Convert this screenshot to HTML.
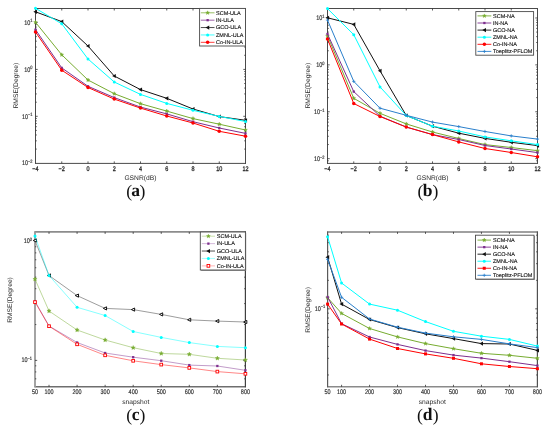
<!DOCTYPE html>
<html><head><meta charset="utf-8"><style>
html,body{margin:0;padding:0;background:#fff;}
body{width:550px;height:436px;overflow:hidden;}
svg{display:block;text-rendering:geometricPrecision;filter:blur(0.25px);}
.tk{font-family:"Liberation Sans",Arial,sans-serif;font-size:5.5px;font-weight:bold;fill:#2a2a2a;}
.tk2{font-family:"Liberation Sans",Arial,sans-serif;font-size:6.7px;fill:#2a2a2a;stroke:#2a2a2a;stroke-width:0.16px;}
.sup{font-size:4.0px;}
.tk2 .sup{font-size:4.8px;}
.bx{stroke-width:0.3px;}
.lg{font-family:"Liberation Sans",Arial,sans-serif;font-size:5.5px;fill:#111;stroke:#111;stroke-width:0.12px;}
.al{font-family:"Liberation Sans",Arial,sans-serif;font-size:6.7px;fill:#2a2a2a;}
.cap{font-family:"Liberation Serif","DejaVu Serif",serif;font-size:17.5px;font-weight:bold;fill:#111;}
.par{font-weight:normal;font-size:17.6px;}
</style></head><body>
<svg width="550" height="436" viewBox="0 0 550 436">
<rect width="550" height="436" fill="#fff"/>
<path d="M35 8.5H246" stroke="#4a4a4a" stroke-width="1"/>
<path d="M35 163.4H246" stroke="#4a4a4a" stroke-width="1"/>
<path d="M35.5 8V163.9" stroke="#4a4a4a" stroke-width="1"/>
<path d="M245.5 8V163.9" stroke="#4a4a4a" stroke-width="1"/>
<path d="M61.75 163.4v-2M61.75 8.5v2M88 163.4v-2M88 8.5v2M114.25 163.4v-2M114.25 8.5v2M140.5 163.4v-2M140.5 8.5v2M166.75 163.4v-2M166.75 8.5v2M193 163.4v-2M193 8.5v2M219.25 163.4v-2M219.25 8.5v2M35.5 149.08h1.3M245.5 149.08h-1.3M35.5 140.83h1.3M245.5 140.83h-1.3M35.5 134.97h1.3M245.5 134.97h-1.3M35.5 130.42h1.3M245.5 130.42h-1.3M35.5 126.71h1.3M245.5 126.71h-1.3M35.5 123.57h1.3M245.5 123.57h-1.3M35.5 120.85h1.3M245.5 120.85h-1.3M35.5 118.45h1.3M245.5 118.45h-1.3M35.5 116.31h2.2M245.5 116.31h-2.2M35.5 102.19h1.3M245.5 102.19h-1.3M35.5 93.93h1.3M245.5 93.93h-1.3M35.5 88.07h1.3M245.5 88.07h-1.3M35.5 83.53h1.3M245.5 83.53h-1.3M35.5 79.81h1.3M245.5 79.81h-1.3M35.5 76.68h1.3M245.5 76.68h-1.3M35.5 73.96h1.3M245.5 73.96h-1.3M35.5 71.56h1.3M245.5 71.56h-1.3M35.5 69.41h2.2M245.5 69.41h-2.2M35.5 55.29h1.3M245.5 55.29h-1.3M35.5 47.04h1.3M245.5 47.04h-1.3M35.5 41.18h1.3M245.5 41.18h-1.3M35.5 36.63h1.3M245.5 36.63h-1.3M35.5 32.92h1.3M245.5 32.92h-1.3M35.5 29.78h1.3M245.5 29.78h-1.3M35.5 27.06h1.3M245.5 27.06h-1.3M35.5 24.66h1.3M245.5 24.66h-1.3M35.5 22.52h2.2M245.5 22.52h-2.2" stroke="#333" stroke-width="0.8" fill="none"/>
<text transform="translate(35.5 170.9) scale(0.82 1)" class="tk2 bx" text-anchor="middle">−4</text>
<text transform="translate(61.75 170.9) scale(0.82 1)" class="tk2 bx" text-anchor="middle">−2</text>
<text transform="translate(88 170.9) scale(0.82 1)" class="tk2 bx" text-anchor="middle">0</text>
<text transform="translate(114.25 170.9) scale(0.82 1)" class="tk2 bx" text-anchor="middle">2</text>
<text transform="translate(140.5 170.9) scale(0.82 1)" class="tk2 bx" text-anchor="middle">4</text>
<text transform="translate(166.75 170.9) scale(0.82 1)" class="tk2 bx" text-anchor="middle">6</text>
<text transform="translate(193 170.9) scale(0.82 1)" class="tk2 bx" text-anchor="middle">8</text>
<text transform="translate(219.25 170.9) scale(0.82 1)" class="tk2 bx" text-anchor="middle">10</text>
<text transform="translate(245.5 170.9) scale(0.82 1)" class="tk2 bx" text-anchor="middle">12</text>
<text transform="translate(32.5 24.72) scale(0.82 1)" class="tk2" text-anchor="end">10<tspan class="sup" dy="-2.3">1</tspan></text>
<text transform="translate(32.5 71.61) scale(0.82 1)" class="tk2" text-anchor="end">10<tspan class="sup" dy="-2.3">0</tspan></text>
<text transform="translate(32.5 118.51) scale(0.82 1)" class="tk2" text-anchor="end">10<tspan class="sup" dy="-2.3">−1</tspan></text>
<text transform="translate(32.5 165.4) scale(0.82 1)" class="tk2" text-anchor="end">10<tspan class="sup" dy="-2.3">−2</tspan></text>
<polyline points="35.5,22.3 61.75,54.8 88,80 114.25,93.7 140.5,103.7 166.75,111.1 193,118.6 219.25,124.2 245.5,130" fill="none" stroke="#77ac30" stroke-width="1.0" stroke-linejoin="round" stroke-opacity="1.0"/>
<polygon points="35.5,20.3 36.03,21.57 37.4,21.68 36.36,22.58 36.68,23.92 35.5,23.2 34.32,23.92 34.64,22.58 33.6,21.68 34.97,21.57" fill="#77ac30" stroke="#77ac30" stroke-width="0.4"/>
<polygon points="61.75,52.8 62.28,54.07 63.65,54.18 62.61,55.08 62.93,56.42 61.75,55.7 60.57,56.42 60.89,55.08 59.85,54.18 61.22,54.07" fill="#77ac30" stroke="#77ac30" stroke-width="0.4"/>
<polygon points="88,78 88.53,79.27 89.9,79.38 88.86,80.28 89.18,81.62 88,80.9 86.82,81.62 87.14,80.28 86.1,79.38 87.47,79.27" fill="#77ac30" stroke="#77ac30" stroke-width="0.4"/>
<polygon points="114.25,91.7 114.78,92.97 116.15,93.08 115.11,93.98 115.43,95.32 114.25,94.6 113.07,95.32 113.39,93.98 112.35,93.08 113.72,92.97" fill="#77ac30" stroke="#77ac30" stroke-width="0.4"/>
<polygon points="140.5,101.7 141.03,102.97 142.4,103.08 141.36,103.98 141.68,105.32 140.5,104.6 139.32,105.32 139.64,103.98 138.6,103.08 139.97,102.97" fill="#77ac30" stroke="#77ac30" stroke-width="0.4"/>
<polygon points="166.75,109.1 167.28,110.37 168.65,110.48 167.61,111.38 167.93,112.72 166.75,112 165.57,112.72 165.89,111.38 164.85,110.48 166.22,110.37" fill="#77ac30" stroke="#77ac30" stroke-width="0.4"/>
<polygon points="193,116.6 193.53,117.87 194.9,117.98 193.86,118.88 194.18,120.22 193,119.5 191.82,120.22 192.14,118.88 191.1,117.98 192.47,117.87" fill="#77ac30" stroke="#77ac30" stroke-width="0.4"/>
<polygon points="219.25,122.2 219.78,123.47 221.15,123.58 220.11,124.48 220.43,125.82 219.25,125.1 218.07,125.82 218.39,124.48 217.35,123.58 218.72,123.47" fill="#77ac30" stroke="#77ac30" stroke-width="0.4"/>
<polygon points="245.5,128 246.03,129.27 247.4,129.38 246.36,130.28 246.68,131.62 245.5,130.9 244.32,131.62 244.64,130.28 243.6,129.38 244.97,129.27" fill="#77ac30" stroke="#77ac30" stroke-width="0.4"/>
<polyline points="35.5,29.7 61.75,67.9 88,86.3 114.25,97.6 140.5,107.1 166.75,113.9 193,121.7 219.25,128 245.5,133.4" fill="none" stroke="#7e2f8e" stroke-width="1.0" stroke-linejoin="round" stroke-opacity="1.0"/>
<rect x="34.35" y="28.55" width="2.3" height="2.3" fill="#7e2f8e"/>
<rect x="60.6" y="66.75" width="2.3" height="2.3" fill="#7e2f8e"/>
<rect x="86.85" y="85.15" width="2.3" height="2.3" fill="#7e2f8e"/>
<rect x="113.1" y="96.45" width="2.3" height="2.3" fill="#7e2f8e"/>
<rect x="139.35" y="105.95" width="2.3" height="2.3" fill="#7e2f8e"/>
<rect x="165.6" y="112.75" width="2.3" height="2.3" fill="#7e2f8e"/>
<rect x="191.85" y="120.55" width="2.3" height="2.3" fill="#7e2f8e"/>
<rect x="218.1" y="126.85" width="2.3" height="2.3" fill="#7e2f8e"/>
<rect x="244.35" y="132.25" width="2.3" height="2.3" fill="#7e2f8e"/>
<polyline points="35.5,11.8 61.75,21.6 88,46 114.25,76 140.5,89.6 166.75,98.3 193,109 219.25,116.6 245.5,120.3" fill="none" stroke="#111111" stroke-width="1.0" stroke-linejoin="round" stroke-opacity="1.0"/>
<polygon points="33.4,11.8 37.08,9.7 37.08,13.9" fill="#111111"/>
<polygon points="59.65,21.6 63.33,19.5 63.33,23.7" fill="#111111"/>
<polygon points="85.9,46 89.58,43.9 89.58,48.1" fill="#111111"/>
<polygon points="112.15,76 115.83,73.9 115.83,78.1" fill="#111111"/>
<polygon points="138.4,89.6 142.07,87.5 142.07,91.7" fill="#111111"/>
<polygon points="164.65,98.3 168.32,96.2 168.32,100.4" fill="#111111"/>
<polygon points="190.9,109 194.57,106.9 194.57,111.1" fill="#111111"/>
<polygon points="217.15,116.6 220.82,114.5 220.82,118.7" fill="#111111"/>
<polygon points="243.4,120.3 247.07,118.2 247.07,122.4" fill="#111111"/>
<polyline points="35.5,8.3 61.75,23.8 88,59 114.25,82 140.5,94.4 166.75,103.4 193,110.3 219.25,116.4 245.5,121.5" fill="none" stroke="#00ffff" stroke-width="1.0" stroke-linejoin="round" stroke-opacity="1.0"/>
<circle cx="35.5" cy="8.3" r="1.5" fill="#00ffff"/>
<circle cx="61.75" cy="23.8" r="1.5" fill="#00ffff"/>
<circle cx="88" cy="59" r="1.5" fill="#00ffff"/>
<circle cx="114.25" cy="82" r="1.5" fill="#00ffff"/>
<circle cx="140.5" cy="94.4" r="1.5" fill="#00ffff"/>
<circle cx="166.75" cy="103.4" r="1.5" fill="#00ffff"/>
<circle cx="193" cy="110.3" r="1.5" fill="#00ffff"/>
<circle cx="219.25" cy="116.4" r="1.5" fill="#00ffff"/>
<circle cx="245.5" cy="121.5" r="1.5" fill="#00ffff"/>
<polyline points="35.5,32 61.75,70.2 88,87.5 114.25,99.1 140.5,108.1 166.75,116 193,123 219.25,131.3 245.5,136.2" fill="none" stroke="#ff0000" stroke-width="1.0" stroke-linejoin="round" stroke-opacity="1.0"/>
<circle cx="35.5" cy="32" r="1.75" fill="#ff0000"/>
<circle cx="61.75" cy="70.2" r="1.75" fill="#ff0000"/>
<circle cx="88" cy="87.5" r="1.75" fill="#ff0000"/>
<circle cx="114.25" cy="99.1" r="1.75" fill="#ff0000"/>
<circle cx="140.5" cy="108.1" r="1.75" fill="#ff0000"/>
<circle cx="166.75" cy="116" r="1.75" fill="#ff0000"/>
<circle cx="193" cy="123" r="1.75" fill="#ff0000"/>
<circle cx="219.25" cy="131.3" r="1.75" fill="#ff0000"/>
<circle cx="245.5" cy="136.2" r="1.75" fill="#ff0000"/>
<rect x="199.6" y="8.4" width="45.9" height="37.6" fill="#fff" stroke="#4a4a4a" stroke-width="0.9"/>
<line x1="200.8" y1="12.8" x2="214.5" y2="12.8" stroke="#77ac30" stroke-width="0.75"/>
<polygon points="207.65,10.8 208.18,12.07 209.55,12.18 208.51,13.08 208.83,14.42 207.65,13.7 206.47,14.42 206.79,13.08 205.75,12.18 207.12,12.07" fill="#77ac30" stroke="#77ac30" stroke-width="0.4"/>
<text x="216" y="14.5" class="lg">SCM-ULA</text>
<line x1="200.8" y1="20.18" x2="214.5" y2="20.18" stroke="#7e2f8e" stroke-width="0.75"/>
<rect x="206.5" y="19.03" width="2.3" height="2.3" fill="#7e2f8e"/>
<text x="216" y="21.88" class="lg">IN-ULA</text>
<line x1="200.8" y1="27.56" x2="214.5" y2="27.56" stroke="#111111" stroke-width="0.75"/>
<polygon points="205.55,27.56 209.22,25.46 209.22,29.66" fill="#111111"/>
<text x="216" y="29.26" class="lg">GCO-ULA</text>
<line x1="200.8" y1="34.94" x2="214.5" y2="34.94" stroke="#00ffff" stroke-width="0.75"/>
<circle cx="207.65" cy="34.94" r="1.5" fill="#00ffff"/>
<text x="216" y="36.64" class="lg">ZMNL-ULA</text>
<line x1="200.8" y1="42.32" x2="214.5" y2="42.32" stroke="#ff0000" stroke-width="0.75"/>
<circle cx="207.65" cy="42.32" r="1.75" fill="#ff0000"/>
<text x="216" y="44.02" class="lg">Co-IN-ULA</text>
<path d="M327 8.5H538" stroke="#4a4a4a" stroke-width="1"/>
<path d="M327 163.4H538" stroke="#4a4a4a" stroke-width="1"/>
<path d="M327.5 8V163.9" stroke="#4a4a4a" stroke-width="1"/>
<path d="M537.5 8V163.9" stroke="#4a4a4a" stroke-width="1"/>
<path d="M353.75 163.4v-2M353.75 8.5v2M380 163.4v-2M380 8.5v2M406.25 163.4v-2M406.25 8.5v2M432.5 163.4v-2M432.5 8.5v2M458.75 163.4v-2M458.75 8.5v2M485 163.4v-2M485 8.5v2M511.25 163.4v-2M511.25 8.5v2M327.5 160.8h1.3M537.5 160.8h-1.3M327.5 158.66h2.2M537.5 158.66h-2.2M327.5 144.54h1.3M537.5 144.54h-1.3M327.5 136.28h1.3M537.5 136.28h-1.3M327.5 130.42h1.3M537.5 130.42h-1.3M327.5 125.88h1.3M537.5 125.88h-1.3M327.5 122.16h1.3M537.5 122.16h-1.3M327.5 119.03h1.3M537.5 119.03h-1.3M327.5 116.31h1.3M537.5 116.31h-1.3M327.5 113.91h1.3M537.5 113.91h-1.3M327.5 111.76h2.2M537.5 111.76h-2.2M327.5 97.64h1.3M537.5 97.64h-1.3M327.5 89.39h1.3M537.5 89.39h-1.3M327.5 83.53h1.3M537.5 83.53h-1.3M327.5 78.98h1.3M537.5 78.98h-1.3M327.5 75.27h1.3M537.5 75.27h-1.3M327.5 72.13h1.3M537.5 72.13h-1.3M327.5 69.41h1.3M537.5 69.41h-1.3M327.5 67.01h1.3M537.5 67.01h-1.3M327.5 64.87h2.2M537.5 64.87h-2.2M327.5 50.75h1.3M537.5 50.75h-1.3M327.5 42.49h1.3M537.5 42.49h-1.3M327.5 36.63h1.3M537.5 36.63h-1.3M327.5 32.09h1.3M537.5 32.09h-1.3M327.5 28.38h1.3M537.5 28.38h-1.3M327.5 25.24h1.3M537.5 25.24h-1.3M327.5 22.52h1.3M537.5 22.52h-1.3M327.5 20.12h1.3M537.5 20.12h-1.3M327.5 17.97h2.2M537.5 17.97h-2.2" stroke="#333" stroke-width="0.8" fill="none"/>
<text transform="translate(327.5 170.9) scale(0.82 1)" class="tk2 bx" text-anchor="middle">−4</text>
<text transform="translate(353.75 170.9) scale(0.82 1)" class="tk2 bx" text-anchor="middle">−2</text>
<text transform="translate(380 170.9) scale(0.82 1)" class="tk2 bx" text-anchor="middle">0</text>
<text transform="translate(406.25 170.9) scale(0.82 1)" class="tk2 bx" text-anchor="middle">2</text>
<text transform="translate(432.5 170.9) scale(0.82 1)" class="tk2 bx" text-anchor="middle">4</text>
<text transform="translate(458.75 170.9) scale(0.82 1)" class="tk2 bx" text-anchor="middle">6</text>
<text transform="translate(485 170.9) scale(0.82 1)" class="tk2 bx" text-anchor="middle">8</text>
<text transform="translate(511.25 170.9) scale(0.82 1)" class="tk2 bx" text-anchor="middle">10</text>
<text transform="translate(537.5 170.9) scale(0.82 1)" class="tk2 bx" text-anchor="middle">12</text>
<text transform="translate(324.5 20.37) scale(0.82 1)" class="tk2" text-anchor="end">10<tspan class="sup" dy="-2.3">1</tspan></text>
<text transform="translate(324.5 67.27) scale(0.82 1)" class="tk2" text-anchor="end">10<tspan class="sup" dy="-2.3">0</tspan></text>
<text transform="translate(324.5 114.16) scale(0.82 1)" class="tk2" text-anchor="end">10<tspan class="sup" dy="-2.3">−1</tspan></text>
<text transform="translate(324.5 161.06) scale(0.82 1)" class="tk2" text-anchor="end">10<tspan class="sup" dy="-2.3">−2</tspan></text>
<polyline points="327.5,35.9 353.75,98.3 380,113.3 406.25,123.9 432.5,132 458.75,138.5 485,144.6 511.25,147.5 537.5,150.7" fill="none" stroke="#77ac30" stroke-width="1.0" stroke-linejoin="round" stroke-opacity="1.0"/>
<polygon points="327.5,33.9 328.03,35.17 329.4,35.28 328.36,36.18 328.68,37.52 327.5,36.8 326.32,37.52 326.64,36.18 325.6,35.28 326.97,35.17" fill="#77ac30" stroke="#77ac30" stroke-width="0.4"/>
<polygon points="353.75,96.3 354.28,97.57 355.65,97.68 354.61,98.58 354.93,99.92 353.75,99.2 352.57,99.92 352.89,98.58 351.85,97.68 353.22,97.57" fill="#77ac30" stroke="#77ac30" stroke-width="0.4"/>
<polygon points="380,111.3 380.53,112.57 381.9,112.68 380.86,113.58 381.18,114.92 380,114.2 378.82,114.92 379.14,113.58 378.1,112.68 379.47,112.57" fill="#77ac30" stroke="#77ac30" stroke-width="0.4"/>
<polygon points="406.25,121.9 406.78,123.17 408.15,123.28 407.11,124.18 407.43,125.52 406.25,124.8 405.07,125.52 405.39,124.18 404.35,123.28 405.72,123.17" fill="#77ac30" stroke="#77ac30" stroke-width="0.4"/>
<polygon points="432.5,130 433.03,131.27 434.4,131.38 433.36,132.28 433.68,133.62 432.5,132.9 431.32,133.62 431.64,132.28 430.6,131.38 431.97,131.27" fill="#77ac30" stroke="#77ac30" stroke-width="0.4"/>
<polygon points="458.75,136.5 459.28,137.77 460.65,137.88 459.61,138.78 459.93,140.12 458.75,139.4 457.57,140.12 457.89,138.78 456.85,137.88 458.22,137.77" fill="#77ac30" stroke="#77ac30" stroke-width="0.4"/>
<polygon points="485,142.6 485.53,143.87 486.9,143.98 485.86,144.88 486.18,146.22 485,145.5 483.82,146.22 484.14,144.88 483.1,143.98 484.47,143.87" fill="#77ac30" stroke="#77ac30" stroke-width="0.4"/>
<polygon points="511.25,145.5 511.78,146.77 513.15,146.88 512.11,147.78 512.43,149.12 511.25,148.4 510.07,149.12 510.39,147.78 509.35,146.88 510.72,146.77" fill="#77ac30" stroke="#77ac30" stroke-width="0.4"/>
<polygon points="537.5,148.7 538.03,149.97 539.4,150.08 538.36,150.98 538.68,152.32 537.5,151.6 536.32,152.32 536.64,150.98 535.6,150.08 536.97,149.97" fill="#77ac30" stroke="#77ac30" stroke-width="0.4"/>
<polyline points="327.5,34 353.75,91.6 380,116.2 406.25,127 432.5,134.6 458.75,139.5 485,145.5 511.25,149 537.5,152.6" fill="none" stroke="#7e2f8e" stroke-width="1.0" stroke-linejoin="round" stroke-opacity="1.0"/>
<rect x="326.35" y="32.85" width="2.3" height="2.3" fill="#7e2f8e"/>
<rect x="352.6" y="90.45" width="2.3" height="2.3" fill="#7e2f8e"/>
<rect x="378.85" y="115.05" width="2.3" height="2.3" fill="#7e2f8e"/>
<rect x="405.1" y="125.85" width="2.3" height="2.3" fill="#7e2f8e"/>
<rect x="431.35" y="133.45" width="2.3" height="2.3" fill="#7e2f8e"/>
<rect x="457.6" y="138.35" width="2.3" height="2.3" fill="#7e2f8e"/>
<rect x="483.85" y="144.35" width="2.3" height="2.3" fill="#7e2f8e"/>
<rect x="510.1" y="147.85" width="2.3" height="2.3" fill="#7e2f8e"/>
<rect x="536.35" y="151.45" width="2.3" height="2.3" fill="#7e2f8e"/>
<polyline points="327.5,17.8 353.75,24.4 380,70.8 406.25,115.5 432.5,126.2 458.75,133.2 485,138.4 511.25,142.3 537.5,145.6" fill="none" stroke="#111111" stroke-width="1.0" stroke-linejoin="round" stroke-opacity="1.0"/>
<polygon points="325.4,17.8 329.07,15.7 329.07,19.9" fill="#111111"/>
<polygon points="351.65,24.4 355.32,22.3 355.32,26.5" fill="#111111"/>
<polygon points="377.9,70.8 381.57,68.7 381.57,72.9" fill="#111111"/>
<polygon points="404.15,115.5 407.82,113.4 407.82,117.6" fill="#111111"/>
<polygon points="430.4,126.2 434.07,124.1 434.07,128.3" fill="#111111"/>
<polygon points="456.65,133.2 460.32,131.1 460.32,135.3" fill="#111111"/>
<polygon points="482.9,138.4 486.57,136.3 486.57,140.5" fill="#111111"/>
<polygon points="509.15,142.3 512.83,140.2 512.83,144.4" fill="#111111"/>
<polygon points="535.4,145.6 539.08,143.5 539.08,147.7" fill="#111111"/>
<polyline points="327.5,8.6 353.75,34.7 380,86.9 406.25,115.5 432.5,126.2 458.75,131 485,136.9 511.25,140.8 537.5,144.6" fill="none" stroke="#00ffff" stroke-width="1.0" stroke-linejoin="round" stroke-opacity="1.0"/>
<circle cx="327.5" cy="8.6" r="1.5" fill="#00ffff"/>
<circle cx="353.75" cy="34.7" r="1.5" fill="#00ffff"/>
<circle cx="380" cy="86.9" r="1.5" fill="#00ffff"/>
<circle cx="406.25" cy="115.5" r="1.5" fill="#00ffff"/>
<circle cx="432.5" cy="126.2" r="1.5" fill="#00ffff"/>
<circle cx="458.75" cy="131" r="1.5" fill="#00ffff"/>
<circle cx="485" cy="136.9" r="1.5" fill="#00ffff"/>
<circle cx="511.25" cy="140.8" r="1.5" fill="#00ffff"/>
<circle cx="537.5" cy="144.6" r="1.5" fill="#00ffff"/>
<polyline points="327.5,39 353.75,103.5 380,116.5 406.25,127.1 432.5,134.6 458.75,141.9 485,148.5 511.25,152.5 537.5,156.8" fill="none" stroke="#ff0000" stroke-width="1.0" stroke-linejoin="round" stroke-opacity="1.0"/>
<circle cx="327.5" cy="39" r="1.75" fill="#ff0000"/>
<circle cx="353.75" cy="103.5" r="1.75" fill="#ff0000"/>
<circle cx="380" cy="116.5" r="1.75" fill="#ff0000"/>
<circle cx="406.25" cy="127.1" r="1.75" fill="#ff0000"/>
<circle cx="432.5" cy="134.6" r="1.75" fill="#ff0000"/>
<circle cx="458.75" cy="141.9" r="1.75" fill="#ff0000"/>
<circle cx="485" cy="148.5" r="1.75" fill="#ff0000"/>
<circle cx="511.25" cy="152.5" r="1.75" fill="#ff0000"/>
<circle cx="537.5" cy="156.8" r="1.75" fill="#ff0000"/>
<polyline points="327.5,20.1 353.75,81.4 380,108.2 406.25,115.3 432.5,122.1 458.75,126.6 485,131.5 511.25,135.9 537.5,139.1" fill="none" stroke="#2a7fcc" stroke-width="1.0" stroke-linejoin="round" stroke-opacity="1.0"/>
<path d="M325.9 20.1H329.1M327.5 18.5V21.7" stroke="#2a7fcc" stroke-width="0.8"/>
<path d="M352.15 81.4H355.35M353.75 79.8V83" stroke="#2a7fcc" stroke-width="0.8"/>
<path d="M378.4 108.2H381.6M380 106.6V109.8" stroke="#2a7fcc" stroke-width="0.8"/>
<path d="M404.65 115.3H407.85M406.25 113.7V116.9" stroke="#2a7fcc" stroke-width="0.8"/>
<path d="M430.9 122.1H434.1M432.5 120.5V123.7" stroke="#2a7fcc" stroke-width="0.8"/>
<path d="M457.15 126.6H460.35M458.75 125V128.2" stroke="#2a7fcc" stroke-width="0.8"/>
<path d="M483.4 131.5H486.6M485 129.9V133.1" stroke="#2a7fcc" stroke-width="0.8"/>
<path d="M509.65 135.9H512.85M511.25 134.3V137.5" stroke="#2a7fcc" stroke-width="0.8"/>
<path d="M535.9 139.1H539.1M537.5 137.5V140.7" stroke="#2a7fcc" stroke-width="0.8"/>
<rect x="475.8" y="11.6" width="57.8" height="43.6" fill="#fff" stroke="#4a4a4a" stroke-width="0.9"/>
<line x1="477.5" y1="15.9" x2="491.3" y2="15.9" stroke="#77ac30" stroke-width="0.9"/>
<polygon points="484.4,13.9 484.93,15.17 486.3,15.28 485.26,16.18 485.58,17.52 484.4,16.8 483.22,17.52 483.54,16.18 482.5,15.28 483.87,15.17" fill="#77ac30" stroke="#77ac30" stroke-width="0.4"/>
<text x="493" y="17.6" class="lg">SCM-NA</text>
<line x1="477.5" y1="23" x2="491.3" y2="23" stroke="#7e2f8e" stroke-width="0.9"/>
<rect x="483.25" y="21.85" width="2.3" height="2.3" fill="#7e2f8e"/>
<text x="493" y="24.7" class="lg">IN-NA</text>
<line x1="477.5" y1="30.1" x2="491.3" y2="30.1" stroke="#111111" stroke-width="0.9"/>
<polygon points="482.3,30.1 485.97,28 485.97,32.2" fill="#111111"/>
<text x="493" y="31.8" class="lg">GCO-NA</text>
<line x1="477.5" y1="37.2" x2="491.3" y2="37.2" stroke="#00ffff" stroke-width="0.9"/>
<circle cx="484.4" cy="37.2" r="1.5" fill="#00ffff"/>
<text x="493" y="38.9" class="lg">ZMNL-NA</text>
<line x1="477.5" y1="44.3" x2="491.3" y2="44.3" stroke="#ff0000" stroke-width="0.9"/>
<circle cx="484.4" cy="44.3" r="1.75" fill="#ff0000"/>
<text x="493" y="46" class="lg">Co-IN-NA</text>
<line x1="477.5" y1="51.4" x2="491.3" y2="51.4" stroke="#2a7fcc" stroke-width="0.9"/>
<path d="M482.8 51.4H486M484.4 49.8V53" stroke="#2a7fcc" stroke-width="0.8"/>
<text x="493" y="53.1" class="lg">Toeplitz-PFLOM</text>
<path d="M34.5 231.9H245.9" stroke="#8c8c8c" stroke-width="1.6"/>
<path d="M34.5 386.8H245.9" stroke="#6e6e6e" stroke-width="1.6"/>
<path d="M35 231.4V387.3" stroke="#9a9a9a" stroke-width="1.8"/>
<path d="M245.4 231.4V387.3" stroke="#404040" stroke-width="1.2"/>
<path d="M49.03 386.8v-2M49.03 231.9v2M77.08 386.8v-2M77.08 231.9v2M105.13 386.8v-2M105.13 231.9v2M133.19 386.8v-2M133.19 231.9v2M161.24 386.8v-2M161.24 231.9v2M189.29 386.8v-2M189.29 231.9v2M217.35 386.8v-2M217.35 231.9v2M35 378.83h1.3M245.4 378.83h-1.3M35 371.92h1.3M245.4 371.92h-1.3M35 365.83h1.3M245.4 365.83h-1.3M35 360.39h2.2M245.4 360.39h-2.2M35 324.55h1.3M245.4 324.55h-1.3M35 303.58h1.3M245.4 303.58h-1.3M35 288.71h1.3M245.4 288.71h-1.3M35 277.17h1.3M245.4 277.17h-1.3M35 267.74h1.3M245.4 267.74h-1.3M35 259.77h1.3M245.4 259.77h-1.3M35 252.87h1.3M245.4 252.87h-1.3M35 246.78h1.3M245.4 246.78h-1.3M35 241.33h2.2M245.4 241.33h-2.2" stroke="#333" stroke-width="0.8" fill="none"/>
<text transform="translate(35 394.3) scale(0.82 1)" class="tk2" text-anchor="middle">50</text>
<text transform="translate(49.03 394.3) scale(0.82 1)" class="tk2" text-anchor="middle">100</text>
<text transform="translate(77.08 394.3) scale(0.82 1)" class="tk2" text-anchor="middle">200</text>
<text transform="translate(105.13 394.3) scale(0.82 1)" class="tk2" text-anchor="middle">300</text>
<text transform="translate(133.19 394.3) scale(0.82 1)" class="tk2" text-anchor="middle">400</text>
<text transform="translate(161.24 394.3) scale(0.82 1)" class="tk2" text-anchor="middle">500</text>
<text transform="translate(189.29 394.3) scale(0.82 1)" class="tk2" text-anchor="middle">600</text>
<text transform="translate(217.35 394.3) scale(0.82 1)" class="tk2" text-anchor="middle">700</text>
<text transform="translate(245.4 394.3) scale(0.82 1)" class="tk2" text-anchor="middle">800</text>
<text transform="translate(32 243.03) scale(0.82 1)" class="tk2" text-anchor="end">10<tspan class="sup" dy="-2.3">0</tspan></text>
<text transform="translate(32 362.09) scale(0.82 1)" class="tk2" text-anchor="end">10<tspan class="sup" dy="-2.3">−1</tspan></text>
<polyline points="35,279.2 49.03,311 77.08,330 105.13,340 133.19,347.7 161.24,353.5 189.29,354.3 217.35,358.3 245.4,360" fill="none" stroke="#77ac30" stroke-width="0.8" stroke-linejoin="round" stroke-opacity="0.6"/>
<polygon points="35,277 35.58,278.4 37.09,278.52 35.94,279.51 36.29,280.98 35,280.19 33.71,280.98 34.06,279.51 32.91,278.52 34.42,278.4" fill="#77ac30" stroke="#77ac30" stroke-width="0.4"/>
<polygon points="49.03,308.8 49.61,310.2 51.12,310.32 49.97,311.31 50.32,312.78 49.03,311.99 47.73,312.78 48.09,311.31 46.93,310.32 48.44,310.2" fill="#77ac30" stroke="#77ac30" stroke-width="0.4"/>
<polygon points="77.08,327.8 77.66,329.2 79.17,329.32 78.02,330.31 78.37,331.78 77.08,330.99 75.79,331.78 76.14,330.31 74.99,329.32 76.5,329.2" fill="#77ac30" stroke="#77ac30" stroke-width="0.4"/>
<polygon points="105.13,337.8 105.72,339.2 107.23,339.32 106.07,340.31 106.43,341.78 105.13,340.99 103.84,341.78 104.19,340.31 103.04,339.32 104.55,339.2" fill="#77ac30" stroke="#77ac30" stroke-width="0.4"/>
<polygon points="133.19,345.5 133.77,346.9 135.28,347.02 134.13,348.01 134.48,349.48 133.19,348.69 131.89,349.48 132.25,348.01 131.09,347.02 132.6,346.9" fill="#77ac30" stroke="#77ac30" stroke-width="0.4"/>
<polygon points="161.24,351.3 161.82,352.7 163.33,352.82 162.18,353.81 162.53,355.28 161.24,354.49 159.95,355.28 160.3,353.81 159.15,352.82 160.66,352.7" fill="#77ac30" stroke="#77ac30" stroke-width="0.4"/>
<polygon points="189.29,352.1 189.88,353.5 191.39,353.62 190.23,354.61 190.59,356.08 189.29,355.29 188,356.08 188.35,354.61 187.2,353.62 188.71,353.5" fill="#77ac30" stroke="#77ac30" stroke-width="0.4"/>
<polygon points="217.35,356.1 217.93,357.5 219.44,357.62 218.29,358.61 218.64,360.08 217.35,359.29 216.05,360.08 216.41,358.61 215.25,357.62 216.76,357.5" fill="#77ac30" stroke="#77ac30" stroke-width="0.4"/>
<polygon points="245.4,357.8 245.98,359.2 247.49,359.32 246.34,360.31 246.69,361.78 245.4,360.99 244.11,361.78 244.46,360.31 243.31,359.32 244.82,359.2" fill="#77ac30" stroke="#77ac30" stroke-width="0.4"/>
<polyline points="35,301.3 49.03,326 77.08,342.5 105.13,353 133.19,357.2 161.24,360.7 189.29,365.1 217.35,366 245.4,370.3" fill="none" stroke="#7e2f8e" stroke-width="0.8" stroke-linejoin="round" stroke-opacity="0.6"/>
<rect x="33.85" y="300.15" width="2.3" height="2.3" fill="#7e2f8e"/>
<rect x="47.88" y="324.85" width="2.3" height="2.3" fill="#7e2f8e"/>
<rect x="75.93" y="341.35" width="2.3" height="2.3" fill="#7e2f8e"/>
<rect x="103.98" y="351.85" width="2.3" height="2.3" fill="#7e2f8e"/>
<rect x="132.04" y="356.05" width="2.3" height="2.3" fill="#7e2f8e"/>
<rect x="160.09" y="359.55" width="2.3" height="2.3" fill="#7e2f8e"/>
<rect x="188.14" y="363.95" width="2.3" height="2.3" fill="#7e2f8e"/>
<rect x="216.2" y="364.85" width="2.3" height="2.3" fill="#7e2f8e"/>
<rect x="244.25" y="369.15" width="2.3" height="2.3" fill="#7e2f8e"/>
<polyline points="35,240.5 49.03,275.5 77.08,295.6 105.13,308.4 133.19,309.6 161.24,314.4 189.29,319.8 217.35,321.1 245.4,322" fill="none" stroke="#777" stroke-width="0.8" stroke-linejoin="round" stroke-opacity="0.9"/>
<polygon points="33.24,240.5 36.44,238.9 36.44,242.1" fill="#fff" stroke="#111" stroke-width="1.0"/>
<polygon points="47.27,275.5 50.47,273.9 50.47,277.1" fill="#fff" stroke="#111" stroke-width="1.0"/>
<polygon points="75.32,295.6 78.52,294 78.52,297.2" fill="#fff" stroke="#111" stroke-width="1.0"/>
<polygon points="103.37,308.4 106.57,306.8 106.57,310" fill="#fff" stroke="#111" stroke-width="1.0"/>
<polygon points="131.43,309.6 134.63,308 134.63,311.2" fill="#fff" stroke="#111" stroke-width="1.0"/>
<polygon points="159.48,314.4 162.68,312.8 162.68,316" fill="#fff" stroke="#111" stroke-width="1.0"/>
<polygon points="187.53,319.8 190.73,318.2 190.73,321.4" fill="#fff" stroke="#111" stroke-width="1.0"/>
<polygon points="215.59,321.1 218.79,319.5 218.79,322.7" fill="#fff" stroke="#111" stroke-width="1.0"/>
<polygon points="243.64,322 246.84,320.4 246.84,323.6" fill="#fff" stroke="#111" stroke-width="1.0"/>
<polyline points="35,236 49.03,275.5 77.08,307.3 105.13,315.5 133.19,331.5 161.24,337.4 189.29,342.6 217.35,346.4 245.4,347.7" fill="none" stroke="#00ffff" stroke-width="0.8" stroke-linejoin="round" stroke-opacity="0.6"/>
<circle cx="35" cy="236" r="1.5" fill="#00ffff"/>
<circle cx="49.03" cy="275.5" r="1.5" fill="#00ffff"/>
<circle cx="77.08" cy="307.3" r="1.5" fill="#00ffff"/>
<circle cx="105.13" cy="315.5" r="1.5" fill="#00ffff"/>
<circle cx="133.19" cy="331.5" r="1.5" fill="#00ffff"/>
<circle cx="161.24" cy="337.4" r="1.5" fill="#00ffff"/>
<circle cx="189.29" cy="342.6" r="1.5" fill="#00ffff"/>
<circle cx="217.35" cy="346.4" r="1.5" fill="#00ffff"/>
<circle cx="245.4" cy="347.7" r="1.5" fill="#00ffff"/>
<polyline points="35,302.1 49.03,326.2 77.08,344.3 105.13,355.3 133.19,360.8 161.24,364.6 189.29,367.9 217.35,371.6 245.4,373.8" fill="none" stroke="#ff0000" stroke-width="0.8" stroke-linejoin="round" stroke-opacity="0.6"/>
<rect x="33.65" y="300.75" width="2.7" height="2.7" fill="#fff" stroke="#ff0000" stroke-width="0.9"/>
<rect x="47.68" y="324.85" width="2.7" height="2.7" fill="#fff" stroke="#ff0000" stroke-width="0.9"/>
<rect x="75.73" y="342.95" width="2.7" height="2.7" fill="#fff" stroke="#ff0000" stroke-width="0.9"/>
<rect x="103.78" y="353.95" width="2.7" height="2.7" fill="#fff" stroke="#ff0000" stroke-width="0.9"/>
<rect x="131.84" y="359.45" width="2.7" height="2.7" fill="#fff" stroke="#ff0000" stroke-width="0.9"/>
<rect x="159.89" y="363.25" width="2.7" height="2.7" fill="#fff" stroke="#ff0000" stroke-width="0.9"/>
<rect x="187.94" y="366.55" width="2.7" height="2.7" fill="#fff" stroke="#ff0000" stroke-width="0.9"/>
<rect x="216" y="370.25" width="2.7" height="2.7" fill="#fff" stroke="#ff0000" stroke-width="0.9"/>
<rect x="244.05" y="372.45" width="2.7" height="2.7" fill="#fff" stroke="#ff0000" stroke-width="0.9"/>
<rect x="201.1" y="232.8" width="45.1" height="38" fill="#8a8a8a"/>
<rect x="200.3" y="232" width="45.1" height="38" fill="#fff" stroke="#4a4a4a" stroke-width="0.9"/>
<line x1="201.8" y1="236.2" x2="215" y2="236.2" stroke="#b4d68c" stroke-width="0.7"/>
<polygon points="208.4,234.2 208.93,235.47 210.3,235.58 209.26,236.48 209.58,237.82 208.4,237.1 207.22,237.82 207.54,236.48 206.5,235.58 207.87,235.47" fill="#77ac30" stroke="#77ac30" stroke-width="0.4"/>
<text x="216.8" y="237.9" class="lg">SCM-ULA</text>
<line x1="201.8" y1="243.62" x2="215" y2="243.62" stroke="#c39ccb" stroke-width="0.7"/>
<rect x="207.25" y="242.47" width="2.3" height="2.3" fill="#7e2f8e"/>
<text x="216.8" y="245.32" class="lg">IN-ULA</text>
<line x1="201.8" y1="251.04" x2="215" y2="251.04" stroke="#8c8c8c" stroke-width="1.5"/>
<polygon points="206.3,251.04 209.97,248.94 209.97,253.14" fill="#111111"/>
<text x="216.8" y="252.74" class="lg">GCO-ULA</text>
<line x1="201.8" y1="258.46" x2="215" y2="258.46" stroke="#80ffff" stroke-width="0.7"/>
<circle cx="208.4" cy="258.46" r="1.5" fill="#00ffff"/>
<text x="216.8" y="260.16" class="lg">ZMNL-ULA</text>
<line x1="201.8" y1="265.88" x2="215" y2="265.88" stroke="#ff9a9a" stroke-width="0.7"/>
<rect x="207.05" y="264.53" width="2.7" height="2.7" fill="#fff" stroke="#ff0000" stroke-width="0.9"/>
<text x="216.8" y="267.58" class="lg">Co-IN-ULA</text>
<path d="M327.1 231.9H537.9" stroke="#808080" stroke-width="1.5"/>
<path d="M327.1 386.8H537.9" stroke="#8a8a8a" stroke-width="1.5"/>
<path d="M327.6 231.4V387.3" stroke="#5a5a5a" stroke-width="1.2"/>
<path d="M537.4 231.4V387.3" stroke="#505050" stroke-width="1.2"/>
<path d="M341.59 386.8v-2M341.59 231.9v2M369.56 386.8v-2M369.56 231.9v2M397.53 386.8v-2M397.53 231.9v2M425.51 386.8v-2M425.51 231.9v2M453.48 386.8v-2M453.48 231.9v2M481.45 386.8v-2M481.45 231.9v2M509.43 386.8v-2M509.43 231.9v2M327.6 374.98h1.3M537.4 374.98h-1.3M327.6 358.31h1.3M537.4 358.31h-1.3M327.6 346.49h1.3M537.4 346.49h-1.3M327.6 337.32h1.3M537.4 337.32h-1.3M327.6 329.82h1.3M537.4 329.82h-1.3M327.6 323.49h1.3M537.4 323.49h-1.3M327.6 318h1.3M537.4 318h-1.3M327.6 313.16h1.3M537.4 313.16h-1.3M327.6 308.83h2.2M537.4 308.83h-2.2M327.6 280.34h1.3M537.4 280.34h-1.3M327.6 263.68h1.3M537.4 263.68h-1.3M327.6 251.85h1.3M537.4 251.85h-1.3M327.6 242.68h1.3M537.4 242.68h-1.3M327.6 235.19h1.3M537.4 235.19h-1.3" stroke="#333" stroke-width="0.8" fill="none"/>
<text transform="translate(327.6 394.3) scale(0.82 1)" class="tk2" text-anchor="middle">50</text>
<text transform="translate(341.59 394.3) scale(0.82 1)" class="tk2" text-anchor="middle">100</text>
<text transform="translate(369.56 394.3) scale(0.82 1)" class="tk2" text-anchor="middle">200</text>
<text transform="translate(397.53 394.3) scale(0.82 1)" class="tk2" text-anchor="middle">300</text>
<text transform="translate(425.51 394.3) scale(0.82 1)" class="tk2" text-anchor="middle">400</text>
<text transform="translate(453.48 394.3) scale(0.82 1)" class="tk2" text-anchor="middle">500</text>
<text transform="translate(481.45 394.3) scale(0.82 1)" class="tk2" text-anchor="middle">600</text>
<text transform="translate(509.43 394.3) scale(0.82 1)" class="tk2" text-anchor="middle">700</text>
<text transform="translate(537.4 394.3) scale(0.82 1)" class="tk2" text-anchor="middle">800</text>
<text transform="translate(325.3 310.53) scale(0.82 1)" class="tk2" text-anchor="end">10<tspan class="sup" dy="-2.3">−1</tspan></text>
<polyline points="327.6,297.7 341.59,313.4 369.56,328.5 397.53,336.9 425.51,343.6 453.48,348.7 481.45,353.3 509.43,355.3 537.4,358.3" fill="none" stroke="#77ac30" stroke-width="1.0" stroke-linejoin="round" stroke-opacity="1.0"/>
<polygon points="327.6,295.7 328.13,296.97 329.5,297.08 328.46,297.98 328.78,299.32 327.6,298.6 326.42,299.32 326.74,297.98 325.7,297.08 327.07,296.97" fill="#77ac30" stroke="#77ac30" stroke-width="0.4"/>
<polygon points="341.59,311.4 342.12,312.67 343.49,312.78 342.44,313.68 342.76,315.02 341.59,314.3 340.41,315.02 340.73,313.68 339.68,312.78 341.06,312.67" fill="#77ac30" stroke="#77ac30" stroke-width="0.4"/>
<polygon points="369.56,326.5 370.09,327.77 371.46,327.88 370.42,328.78 370.74,330.12 369.56,329.4 368.38,330.12 368.7,328.78 367.66,327.88 369.03,327.77" fill="#77ac30" stroke="#77ac30" stroke-width="0.4"/>
<polygon points="397.53,334.9 398.06,336.17 399.44,336.28 398.39,337.18 398.71,338.52 397.53,337.8 396.36,338.52 396.68,337.18 395.63,336.28 397,336.17" fill="#77ac30" stroke="#77ac30" stroke-width="0.4"/>
<polygon points="425.51,341.6 426.04,342.87 427.41,342.98 426.36,343.88 426.68,345.22 425.51,344.5 424.33,345.22 424.65,343.88 423.6,342.98 424.98,342.87" fill="#77ac30" stroke="#77ac30" stroke-width="0.4"/>
<polygon points="453.48,346.7 454.01,347.97 455.38,348.08 454.34,348.98 454.66,350.32 453.48,349.6 452.3,350.32 452.62,348.98 451.58,348.08 452.95,347.97" fill="#77ac30" stroke="#77ac30" stroke-width="0.4"/>
<polygon points="481.45,351.3 481.98,352.57 483.36,352.68 482.31,353.58 482.63,354.92 481.45,354.2 480.28,354.92 480.6,353.58 479.55,352.68 480.92,352.57" fill="#77ac30" stroke="#77ac30" stroke-width="0.4"/>
<polygon points="509.43,353.3 509.96,354.57 511.33,354.68 510.28,355.58 510.6,356.92 509.43,356.2 508.25,356.92 508.57,355.58 507.52,354.68 508.9,354.57" fill="#77ac30" stroke="#77ac30" stroke-width="0.4"/>
<polygon points="537.4,356.3 537.93,357.57 539.3,357.68 538.26,358.58 538.58,359.92 537.4,359.2 536.22,359.92 536.54,358.58 535.5,357.68 536.87,357.57" fill="#77ac30" stroke="#77ac30" stroke-width="0.4"/>
<polyline points="327.6,297 341.59,323.7 369.56,337 397.53,344.4 425.51,350.6 453.48,355.1 481.45,358.1 509.43,361.7 537.4,365.6" fill="none" stroke="#7e2f8e" stroke-width="1.0" stroke-linejoin="round" stroke-opacity="1.0"/>
<rect x="326.45" y="295.85" width="2.3" height="2.3" fill="#7e2f8e"/>
<rect x="340.44" y="322.55" width="2.3" height="2.3" fill="#7e2f8e"/>
<rect x="368.41" y="335.85" width="2.3" height="2.3" fill="#7e2f8e"/>
<rect x="396.38" y="343.25" width="2.3" height="2.3" fill="#7e2f8e"/>
<rect x="424.36" y="349.45" width="2.3" height="2.3" fill="#7e2f8e"/>
<rect x="452.33" y="353.95" width="2.3" height="2.3" fill="#7e2f8e"/>
<rect x="480.3" y="356.95" width="2.3" height="2.3" fill="#7e2f8e"/>
<rect x="508.28" y="360.55" width="2.3" height="2.3" fill="#7e2f8e"/>
<rect x="536.25" y="364.45" width="2.3" height="2.3" fill="#7e2f8e"/>
<polyline points="327.6,257.2 341.59,304.1 369.56,319.5 397.53,327.6 425.51,333.8 453.48,338.6 481.45,343.6 509.43,344 537.4,350.4" fill="none" stroke="#111111" stroke-width="1.0" stroke-linejoin="round" stroke-opacity="1.0"/>
<polygon points="325.5,257.2 329.18,255.1 329.18,259.3" fill="#111111"/>
<polygon points="339.49,304.1 343.16,302 343.16,306.2" fill="#111111"/>
<polygon points="367.46,319.5 371.14,317.4 371.14,321.6" fill="#111111"/>
<polygon points="395.43,327.6 399.11,325.5 399.11,329.7" fill="#111111"/>
<polygon points="423.41,333.8 427.08,331.7 427.08,335.9" fill="#111111"/>
<polygon points="451.38,338.6 455.06,336.5 455.06,340.7" fill="#111111"/>
<polygon points="479.35,343.6 483.03,341.5 483.03,345.7" fill="#111111"/>
<polygon points="507.33,344 511,341.9 511,346.1" fill="#111111"/>
<polygon points="535.3,350.4 538.98,348.3 538.98,352.5" fill="#111111"/>
<polyline points="327.6,236.8 341.59,283 369.56,304.1 397.53,310.2 425.51,321.6 453.48,331.3 481.45,336.2 509.43,339.4 537.4,346.1" fill="none" stroke="#00ffff" stroke-width="1.0" stroke-linejoin="round" stroke-opacity="1.0"/>
<circle cx="327.6" cy="236.8" r="1.5" fill="#00ffff"/>
<circle cx="341.59" cy="283" r="1.5" fill="#00ffff"/>
<circle cx="369.56" cy="304.1" r="1.5" fill="#00ffff"/>
<circle cx="397.53" cy="310.2" r="1.5" fill="#00ffff"/>
<circle cx="425.51" cy="321.6" r="1.5" fill="#00ffff"/>
<circle cx="453.48" cy="331.3" r="1.5" fill="#00ffff"/>
<circle cx="481.45" cy="336.2" r="1.5" fill="#00ffff"/>
<circle cx="509.43" cy="339.4" r="1.5" fill="#00ffff"/>
<circle cx="537.4" cy="346.1" r="1.5" fill="#00ffff"/>
<polyline points="327.6,304.1 341.59,324 369.56,339.1 397.53,348.5 425.51,353.9 453.48,358.3 481.45,363.8 509.43,366.5 537.4,368.7" fill="none" stroke="#ff0000" stroke-width="1.0" stroke-linejoin="round" stroke-opacity="1.0"/>
<rect x="326.1" y="302.6" width="3" height="3" fill="#ff0000"/>
<rect x="340.09" y="322.5" width="3" height="3" fill="#ff0000"/>
<rect x="368.06" y="337.6" width="3" height="3" fill="#ff0000"/>
<rect x="396.03" y="347" width="3" height="3" fill="#ff0000"/>
<rect x="424.01" y="352.4" width="3" height="3" fill="#ff0000"/>
<rect x="451.98" y="356.8" width="3" height="3" fill="#ff0000"/>
<rect x="479.95" y="362.3" width="3" height="3" fill="#ff0000"/>
<rect x="507.93" y="365" width="3" height="3" fill="#ff0000"/>
<rect x="535.9" y="367.2" width="3" height="3" fill="#ff0000"/>
<polyline points="327.6,259.3 341.59,297.3 369.56,319 397.53,327.2 425.51,333.1 453.48,336.8 481.45,339.4 509.43,343.9 537.4,347.6" fill="none" stroke="#2a7fcc" stroke-width="1.0" stroke-linejoin="round" stroke-opacity="1.0"/>
<path d="M326 259.3H329.2M327.6 257.7V260.9" stroke="#2a7fcc" stroke-width="0.8"/>
<path d="M339.99 297.3H343.19M341.59 295.7V298.9" stroke="#2a7fcc" stroke-width="0.8"/>
<path d="M367.96 319H371.16M369.56 317.4V320.6" stroke="#2a7fcc" stroke-width="0.8"/>
<path d="M395.93 327.2H399.13M397.53 325.6V328.8" stroke="#2a7fcc" stroke-width="0.8"/>
<path d="M423.91 333.1H427.11M425.51 331.5V334.7" stroke="#2a7fcc" stroke-width="0.8"/>
<path d="M451.88 336.8H455.08M453.48 335.2V338.4" stroke="#2a7fcc" stroke-width="0.8"/>
<path d="M479.85 339.4H483.05M481.45 337.8V341" stroke="#2a7fcc" stroke-width="0.8"/>
<path d="M507.83 343.9H511.03M509.43 342.3V345.5" stroke="#2a7fcc" stroke-width="0.8"/>
<path d="M535.8 347.6H539M537.4 346V349.2" stroke="#2a7fcc" stroke-width="0.8"/>
<rect x="476.3" y="236" width="58.5" height="43.9" fill="#8a8a8a"/>
<rect x="475.5" y="235.2" width="58.5" height="43.9" fill="#fff" stroke="#4a4a4a" stroke-width="0.9"/>
<line x1="477.5" y1="240.1" x2="491" y2="240.1" stroke="#77ac30" stroke-width="0.9"/>
<polygon points="484.25,238.1 484.78,239.37 486.15,239.48 485.11,240.38 485.43,241.72 484.25,241 483.07,241.72 483.39,240.38 482.35,239.48 483.72,239.37" fill="#77ac30" stroke="#77ac30" stroke-width="0.4"/>
<text x="493" y="241.8" class="lg">SCM-NA</text>
<line x1="477.5" y1="247.14" x2="491" y2="247.14" stroke="#7e2f8e" stroke-width="0.9"/>
<rect x="483.1" y="245.99" width="2.3" height="2.3" fill="#7e2f8e"/>
<text x="493" y="248.84" class="lg">IN-NA</text>
<line x1="477.5" y1="254.18" x2="491" y2="254.18" stroke="#111111" stroke-width="0.9"/>
<polygon points="482.15,254.18 485.82,252.08 485.82,256.28" fill="#111111"/>
<text x="493" y="255.88" class="lg">GCO-NA</text>
<line x1="477.5" y1="261.22" x2="491" y2="261.22" stroke="#00ffff" stroke-width="0.9"/>
<circle cx="484.25" cy="261.22" r="1.5" fill="#00ffff"/>
<text x="493" y="262.92" class="lg">ZMNL-NA</text>
<line x1="477.5" y1="268.26" x2="491" y2="268.26" stroke="#ff0000" stroke-width="0.9"/>
<rect x="482.75" y="266.76" width="3" height="3" fill="#ff0000"/>
<text x="493" y="269.96" class="lg">Co-IN-NA</text>
<line x1="477.5" y1="275.3" x2="491" y2="275.3" stroke="#2a7fcc" stroke-width="0.9"/>
<path d="M482.65 275.3H485.85M484.25 273.7V276.9" stroke="#2a7fcc" stroke-width="0.8"/>
<text x="493" y="277" class="lg">Toeplitz-PFLOM</text>
<text x="140.4" y="180.4" class="al" text-anchor="middle">GSNR(dB)</text>
<text x="432.5" y="180.4" class="al" text-anchor="middle">GSNR(dB)</text>
<text x="135.8" y="403.8" class="al" text-anchor="middle">snapshot</text>
<text x="432.3" y="403.8" class="al" text-anchor="middle">snapshot</text>
<text transform="translate(17.7 85.6) rotate(-90)" class="al" text-anchor="middle">RMSE(Degree)</text>
<text transform="translate(310.1 85.6) rotate(-90)" class="al" text-anchor="middle">RMSE(Degree)</text>
<text transform="translate(11.7 300) rotate(-90)" class="al" text-anchor="middle">RMSE(Degree)</text>
<text transform="translate(309.7 309.8) rotate(-90)" class="al" text-anchor="middle">RMSE(Degree)</text>
<text x="135.7" y="196.3" class="cap" text-anchor="middle">a</text>
<text x="132.2" y="197.3" class="cap par" text-anchor="end">(</text>
<text x="139.6" y="197.3" class="cap par" text-anchor="start">)</text>
<text x="427.7" y="196.3" class="cap" text-anchor="middle">b</text>
<text x="423.3" y="197.3" class="cap par" text-anchor="end">(</text>
<text x="432.4" y="197.3" class="cap par" text-anchor="start">)</text>
<text x="135.7" y="419.6" class="cap" text-anchor="middle">c</text>
<text x="132.0" y="420.6" class="cap par" text-anchor="end">(</text>
<text x="139.4" y="420.6" class="cap par" text-anchor="start">)</text>
<text x="427.7" y="419.6" class="cap" text-anchor="middle">d</text>
<text x="422.8" y="420.6" class="cap par" text-anchor="end">(</text>
<text x="432.8" y="420.6" class="cap par" text-anchor="start">)</text>
</svg>
</body></html>
